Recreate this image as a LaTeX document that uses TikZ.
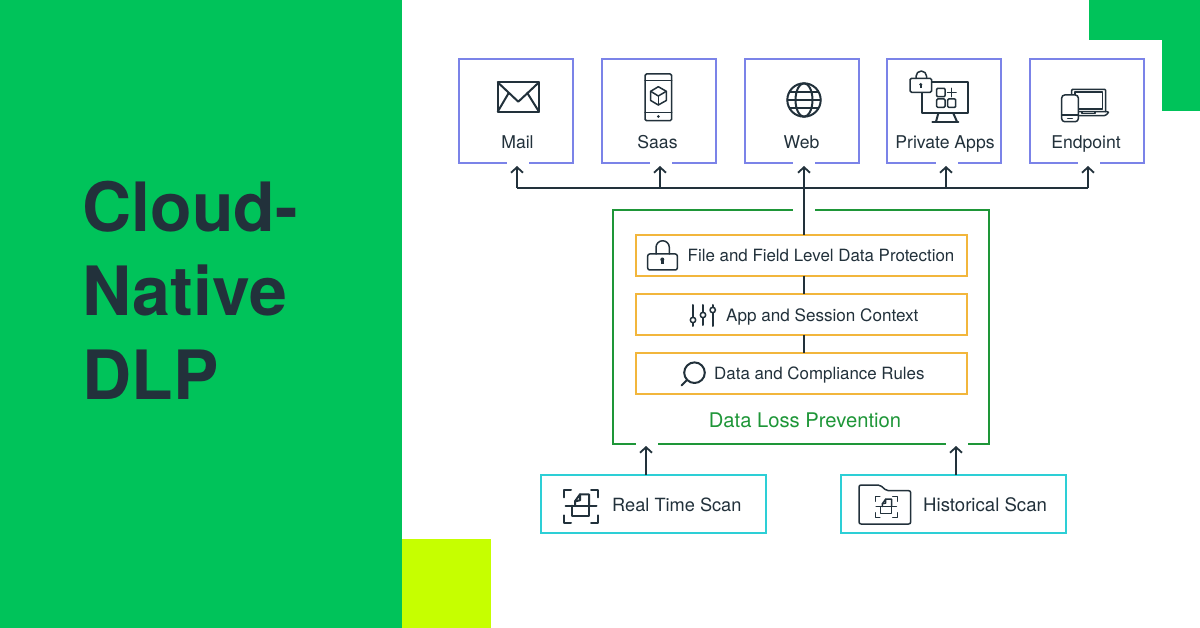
\documentclass[tikz,border=0pt]{standalone}
\usepackage{fontspec}
\setmainfont{TeX Gyre Heros}
\usetikzlibrary{arrows.meta}
\definecolor{brandgreen}{HTML}{00C35A}
\definecolor{lime}{HTML}{C6FF00}
\definecolor{ink}{HTML}{22313B}
\definecolor{blueline}{HTML}{7B83E8}
\definecolor{yellowline}{HTML}{F2B63C}
\definecolor{cyanline}{HTML}{2DCFD6}
\definecolor{greenline}{HTML}{1E9638}
\tikzset{
  x=1pt,y=-1pt,
  boxbase/.style={line width=2pt,outer sep=0pt,inner sep=0pt,anchor=north west},
  bluebox/.style={boxbase,draw=blueline,minimum width=114pt,minimum height=104pt},
  yellowbox/.style={boxbase,draw=yellowline,minimum width=331.5pt,minimum height=41pt},
  cyanbox/.style={boxbase,draw=cyanline,minimum width=224.5pt,minimum height=58pt},
  greenbox/.style={boxbase,draw=greenline,minimum width=376pt,minimum height=234pt},
  lbl/.style={text=ink,inner sep=0pt,anchor=base},
  lblblue/.style={lbl,font=\fontsize{17.6}{20}\selectfont},
  lblyellow/.style={lbl,anchor=base west,font=\fontsize{16.9}{20}\selectfont},
  lblcyan/.style={lbl,anchor=base west,font=\fontsize{18.6}{20}\selectfont},
  conn/.style={draw=ink,line width=1.8pt},
  arrowed/.style={conn,-{Straight Barb[length=5.5pt,width=12pt,line width=1.8pt]}},
  icon/.style={draw=ink,line width=2pt,line join=round,line cap=round},
  thinicon/.style={draw=ink,line width=1.5pt,line join=round,line cap=round},
  gap/.style={fill=white,draw=none}
}
\newcommand{\scanglyph}[4]{% cx cy scale style
  \begin{scope}[shift={(#1,#2)},scale=#3]
    \draw[#4] (-17,-9) -- (-17,-16.5) -- (-10,-16.5);
    \draw[#4] (10,-16.5) -- (17,-16.5) -- (17,-9);
    \draw[#4] (-17,9) -- (-17,16.5) -- (-10,16.5);
    \draw[#4] (10,16.5) -- (17,16.5) -- (17,9);
    \draw[#4] (-15.5,-0.7) -- (15.5,-0.7);
    \draw[#4] (-6,-0.7) -- (-6,-5) -- (-1,-12) -- (8,-12) -- (8,-0.7);
    \draw[#4] (-1,-12) -- (-1,-6) -- (-6,-5);
    \draw[#4] (-9,-0.7) -- (-9,10) -- (8,10) -- (8,-0.7);
  \end{scope}}
\begin{document}
\begin{tikzpicture}
\useasboundingbox (0,0) rectangle (1200,628);
\fill[white] (0,0) rectangle (1200,628);
\fill[brandgreen] (0,0) rectangle (402,628);
\fill[lime] (402,539) rectangle (491,628);
\fill[brandgreen] (1089,0) -- (1200,0) -- (1200,111) -- (1162,111) -- (1162,40) -- (1089,40) -- cycle;
\node[anchor=west,align=left,inner sep=0pt,text=ink,font=\bfseries\fontsize{68}{84}\selectfont] (title) at (82.5,290) {Cloud-\\Native\\DLP};

% boxes
\node[bluebox] (mail) at (459,59) {};
\node[bluebox] (saas) at (602,59) {};
\node[bluebox] (web) at (744.5,59) {};
\node[bluebox] (apps) at (887,59) {};
\node[bluebox] (endpoint) at (1030,59) {};
\node[greenbox] (dlp) at (613,210) {};
\node[yellowbox] (protect) at (635.5,235) {};
\node[yellowbox] (context) at (635.5,294) {};
\node[yellowbox] (rules) at (635.5,353) {};
\node[cyanbox] (realtime) at (541,475) {};
\node[cyanbox] (historical) at (841,475) {};

% gaps in the borders
\foreach \gx/\gy in {506.5/163,649.5/163,792.5/163,935.5/163,1078/163,792.5/210,636/444,945.5/444}
  \fill[gap] (\gx,\gy-2) rectangle (\gx+22,\gy+2);

% connectors
\coordinate (busmail) at (517,188);
\coordinate (bussaas) at (660,188);
\coordinate (busweb) at (804,188);
\coordinate (busapps) at (946,188);
\coordinate (busend) at (1088,188);
\coordinate (tipmail) at (517,166);
\coordinate (tipsaas) at (660,166);
\coordinate (tipweb) at (804,166);
\coordinate (tipapps) at (946,166);
\coordinate (tipend) at (1088,166);
\coordinate (tipreal) at (646,446);
\coordinate (tiphist) at (956,446);
\draw[conn] (busmail) -- (busend);
\draw[arrowed] (busmail) -- (tipmail);
\draw[arrowed] (bussaas) -- (tipsaas);
\draw[arrowed] (busapps) -- (tipapps);
\draw[arrowed] (busend) -- (tipend);
\draw[arrowed] (protect.north -| busweb) -- (tipweb);
\draw[conn] (protect.south -| busweb) -- (context.north -| busweb);
\draw[conn] (context.south -| busweb) -- (rules.north -| busweb);
\draw[arrowed] (realtime.north -| tipreal) -- (tipreal);
\draw[arrowed] (historical.north -| tiphist) -- (tiphist);

% labels
\node[lblblue] (lmail) at (517.5,148.5) {Mail};
\node[lblblue] (lsaas) at (657.5,148.5) {Saas};
\node[lblblue] (lweb) at (801.5,148.5) {Web};
\node[lblblue] (lapps) at (945,148.5) {Private Apps};
\node[lblblue] (lend) at (1086,148.5) {Endpoint};
\node[lblyellow] (lprotect) at (687.5,261.5) {File and Field Level Data Protection};
\node[lblyellow,font=\fontsize{17.1}{20}\selectfont] (lcontext) at (726,321.5) {App and Session Context};
\node[lblyellow] (lrules) at (714,379.5) {Data and Compliance Rules};
\node[lblcyan,font=\fontsize{18.2}{20}\selectfont] (lreal) at (612,511) {Real Time Scan};
\node[lblcyan] (lhist) at (923,511) {Historical Scan};
\node[lbl,text=greenline,font=\fontsize{20.2}{22}\selectfont] (ldlp) at (805,427) {Data Loss Prevention};

% mail icon
\draw[icon] (497.7,82.3) rectangle (539,111.7);
\draw[icon] (497.7,82.3) -- (518.3,101.7) -- (539,82.3);
\draw[icon] (497.7,111.7) -- (508.7,93);
\draw[icon] (539,111.7) -- (527.3,93);

% phone icon
\draw[thinicon,rounded corners=1.5pt] (645,74) rectangle (671.7,120.7);
\draw[thinicon] (645,80.5) -- (671.7,80.5);
\draw[thinicon] (645,112.7) -- (671.7,112.7);
\fill[ink] (658.3,116.5) circle (1.5);
\draw[thinicon] (658.3,86.7) -- (666.3,91.3) -- (666.3,100.5) -- (658.3,105) -- (650.7,100.5) -- (650.7,91.3) -- cycle;
\draw[thinicon] (650.7,91.3) -- (658.3,96) -- (666.3,91.3);
\draw[thinicon] (658.3,96) -- (658.3,105);

% globe icon
\draw[icon] (804,100) circle (16.7);
\draw[icon] (804,100) ellipse (8.5 and 16.7);
\draw[icon] (787.3,100) -- (820.7,100);
\draw[thinicon] (790,92) -- (818,92);
\draw[thinicon] (790,108) -- (818,108);

% monitor with lock
\draw[icon] (922.3,81.7) rectangle (968.3,113.3);
\draw[icon] (938.3,113.3) -- (936,121.7);
\draw[icon] (953.3,113.3) -- (957,121.7);
\draw[icon] (932.3,121.7) -- (958.3,121.7);
\draw[thinicon,rounded corners=1pt] (936.7,88.3) rectangle (945,96.7);
\draw[thinicon] (947.5,92.5) -- (956,92.5);
\draw[thinicon] (951.7,88.3) -- (951.7,96.7);
\draw[thinicon,rounded corners=1pt] (936.7,99) rectangle (945,107.3);
\draw[thinicon,rounded corners=1pt] (947.7,99) rectangle (955.7,107.3);
\draw[thinicon,fill=white,rounded corners=1.5pt] (910,78.3) rectangle (931.7,92.3);
\draw[thinicon] (916,78.3) -- (916,76.3) arc[start angle=180,end angle=360,radius=5.3] -- (926.6,78.3);
\fill[ink] (920.7,84.5) circle (1.7);
\fill[ink] (919.6,85) rectangle (921.8,88.5);

% endpoint icon
\draw[thinicon,rounded corners=1pt] (1071.7,95) -- (1071.7,89.3) -- (1105.7,89.3) -- (1105.7,111.7);
\draw[thinicon] (1075,95) -- (1075,92) -- (1102.5,92) -- (1102.5,109) -- (1079,109);
\draw[thinicon,rounded corners=1pt] (1079,111.7) -- (1108.3,111.7) -- (1108.3,113) -- (1105,115.7) -- (1079,115.7);
\draw[thinicon] (1082,112) -- (1082,113.5) -- (1095,113.5) -- (1095,112);
\draw[thinicon,rounded corners=3pt,fill=white] (1061.7,95) rectangle (1078.3,121.7);
\draw[thinicon] (1061.7,115) -- (1078.3,115);
\draw[thinicon] (1067.7,118.3) -- (1072.3,118.3);

% padlock
\draw[thinicon,rounded corners=2pt] (647.7,254) rectangle (677.3,270);
\draw[thinicon] (656,254) -- (656,247.4) arc[start angle=180,end angle=360,radius=6.65] -- (669.3,254);
\fill[ink] (662.3,259.5) circle (2);
\fill[ink] (661,259.5) rectangle (663.6,264.5);

% sliders
\draw[icon] (693,305) -- (693,317.3);
\draw[icon] (693,322.8) -- (693,326);
\draw[thinicon] (693,320) circle (2.7);
\draw[icon] (703,305) -- (703,312.3);
\draw[icon] (703,317.8) -- (703,325);
\draw[thinicon] (703,315) circle (2.7);
\draw[icon] (712.7,305) -- (712.7,307.3);
\draw[icon] (712.7,312.8) -- (712.7,326);
\draw[thinicon] (712.7,310) circle (2.7);

% magnifier
\draw[icon] (694.5,372.7) circle (10.3);
\draw[icon] (687,380) -- (681.7,385.3);

% scan icons
\scanglyph{581}{506.3}{1}{icon}
\draw[thinicon,rounded corners=2pt] (859,524) -- (859,485) -- (880,485) -- (886.5,490.7) -- (910.7,490.7) -- (910.7,524) -- cycle;
\scanglyph{886.3}{507}{0.65}{thinicon}
\end{tikzpicture}
\end{document}
